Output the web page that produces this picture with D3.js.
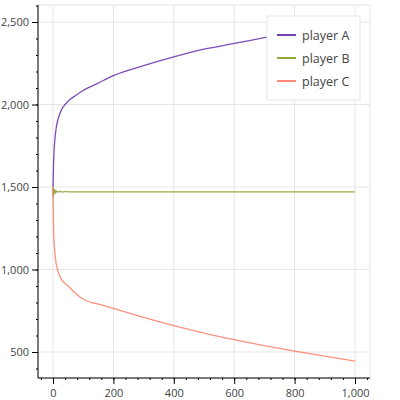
<!DOCTYPE html><html><head><script src="https://cdn.jsdelivr.net/npm/d3@7"></script>
<style>body{margin:0;background:#fff}text{font-family:"Open Sans",Roboto,sans-serif}</style></head><body><svg id="c" width="400" height="400"></svg><script>
const steps=[0,1,2,3,5,8,10,15,20,30,40,50,75,100,150,200,300,400,500,600,700,800,900,1000];
const playerA=[1500,1580,1650,1700,1760,1820,1850,1900,1930,1975,2000,2020,2055,2085,2130,2175,2235,2288,2335,2370,2405,2440,2475,2505];
const playerB=[1500,1440,1490,1455,1485,1462,1478,1468,1474,1470,1472,1471,1471,1471,1471,1471,1471,1471,1471,1471,1471,1471,1471,1471];
const playerC=[1500,1350,1250,1190,1130,1070,1040,1000,970,935,915,900,855,820,790,765,710,660,615,575,538,505,475,445];
const seriesNames=["player A","player B","player C"];
const colors=["#440099","#6b8e00","#ff6347"];
const yTicks=[500,1000,1500,2000,2500], xTicks=[0,200,400,600,800,1000];
const svg=d3.select("#c");
const L=38,R=370,T=5,B=378;
const x=d3.scaleLinear().domain([0,1000]).range([53,355]);
const y=d3.scaleLinear().domain([500,2500]).range([352,22]);
const g=svg.append("g");
g.selectAll(".gx").data(xTicks).join("line").attr("x1",d=>x(d)).attr("x2",d=>x(d)).attr("y1",T).attr("y2",B).attr("stroke","#e5e5e5");
g.selectAll(".gy").data(yTicks).join("line").attr("y1",d=>y(d)).attr("y2",d=>y(d)).attr("x1",L).attr("x2",R).attr("stroke","#e5e5e5");
svg.append("rect").attr("x",L).attr("y",T).attr("width",R-L).attr("height",B-T).attr("fill","none").attr("stroke","#e5e5e5");
const line=d3.line().x((d,i)=>x(steps[i])).y(d=>y(d)).curve(d3.curveMonotoneX);
[playerA,playerB,playerC].forEach((s,i)=>svg.append("path").attr("d",line(s)).attr("fill","none").attr("stroke",colors[i]).attr("stroke-opacity",0.7).attr("stroke-width",1.3));
const xa=svg.append("g").attr("transform",`translate(0,${B})`).call(d3.axisBottom(x).tickValues(xTicks).tickSize(6).tickPadding(5));
svg.append("g").attr("transform",`translate(0,${B})`).call(d3.axisBottom(x).tickValues(d3.range(-40,1041,40)).tickSize(2).tickFormat(""));
const ya=svg.append("g").attr("transform",`translate(${L},0)`).call(d3.axisLeft(y).tickValues(yTicks).tickSize(6).tickPadding(3));
svg.append("g").attr("transform",`translate(${L},0)`).call(d3.axisLeft(y).tickValues(d3.range(400,2601,100)).tickSize(2).tickFormat(""));
svg.selectAll(".domain").remove();
svg.append("line").attr("x1",L).attr("x2",R).attr("y1",B).attr("y2",B).attr("stroke","#000");
svg.append("line").attr("x1",L).attr("x2",L).attr("y1",T).attr("y2",B).attr("stroke","#000");
svg.selectAll(".tick text").attr("font-size",11).attr("fill","#444");
const lg=svg.append("g");
lg.append("rect").attr("x",267).attr("y",16).attr("width",93).attr("height",84).attr("fill","#fff").attr("stroke","#e5e5e5");
seriesNames.forEach((n,i)=>{const yy=35+i*23;
lg.append("line").attr("x1",277).attr("x2",296).attr("y1",yy).attr("y2",yy).attr("stroke",colors[i]).attr("stroke-width",1.5);
lg.append("text").attr("x",302).attr("y",yy+4.5).attr("font-size",12.5).attr("fill","#444").text(n);});
</script></body></html>
